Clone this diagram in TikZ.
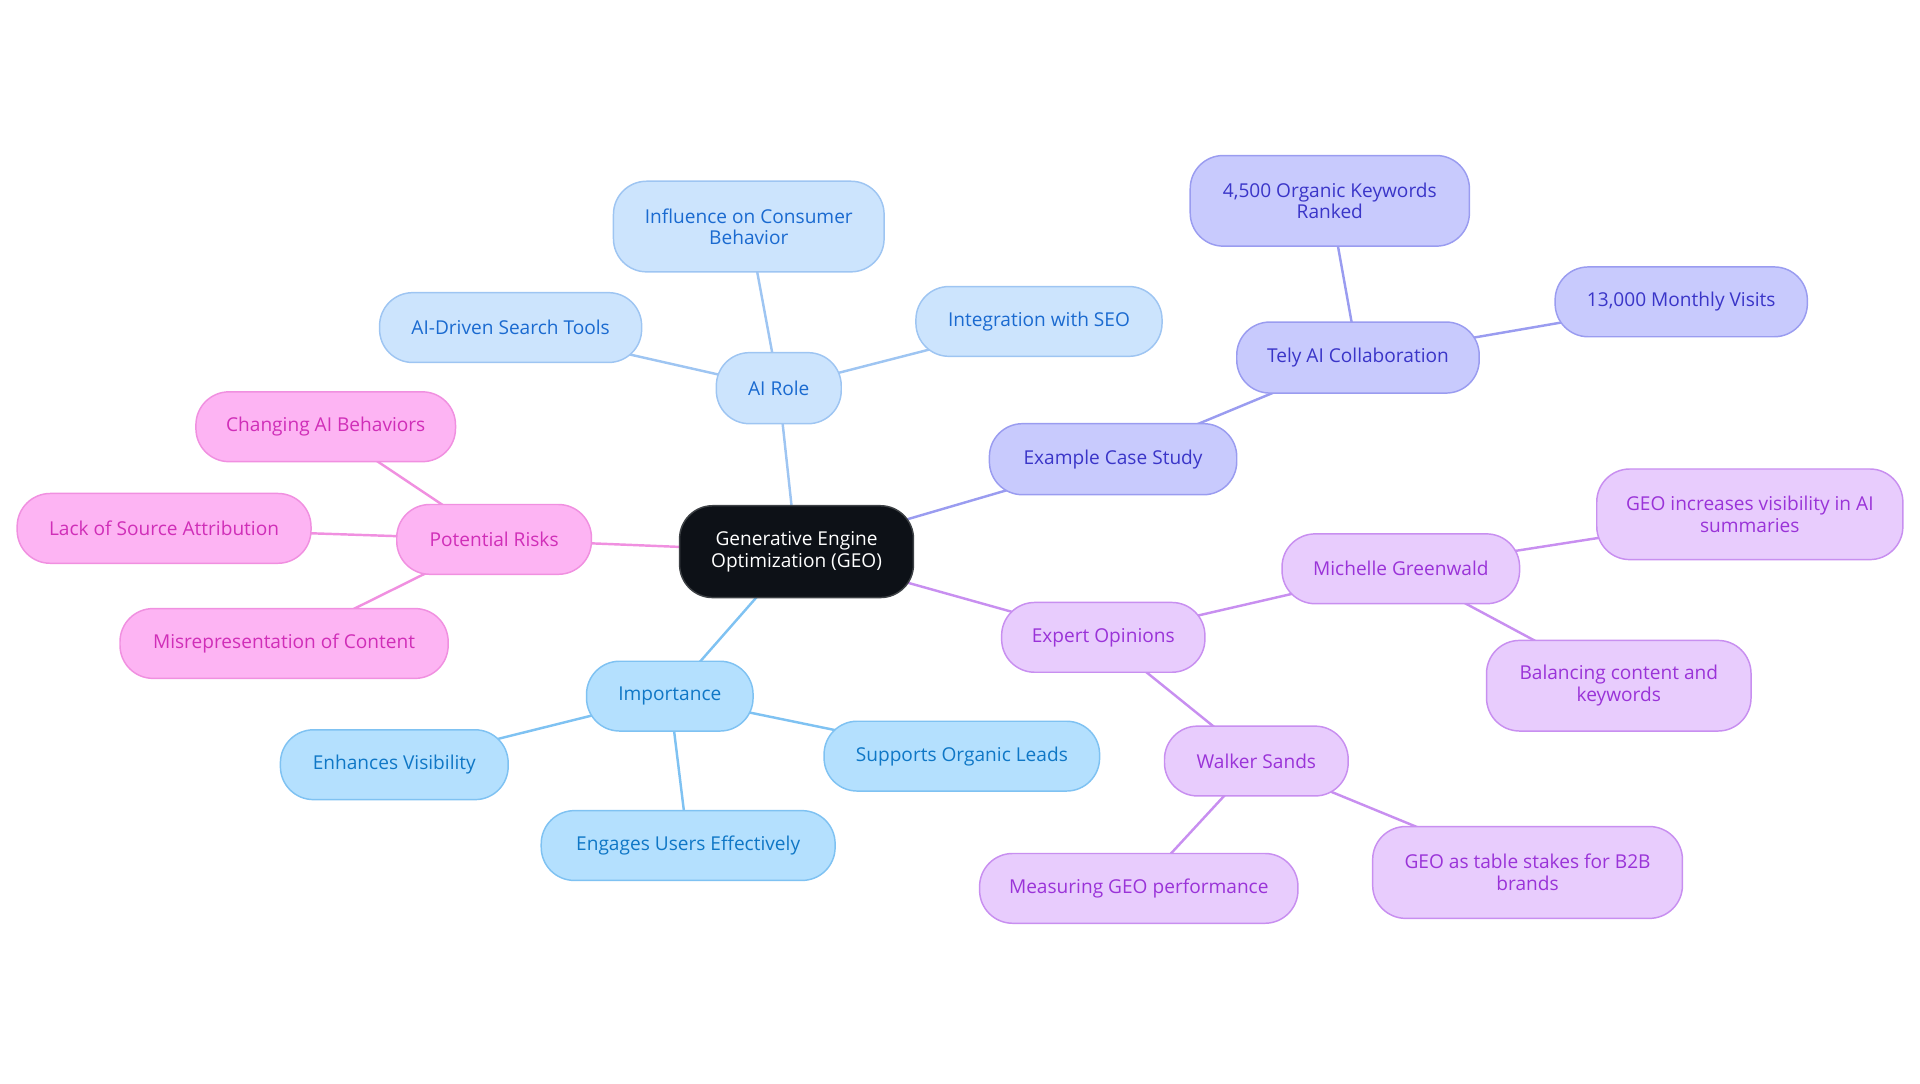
\documentclass[tikz,border=0pt]{standalone}
\usepackage{fontspec}
\setmainfont{Open Sans}
\usetikzlibrary{backgrounds}
\definecolor{rootfill}{HTML}{0D1117}
\definecolor{aifill}{HTML}{CCE4FD}\definecolor{aidraw}{HTML}{9EC5F2}\definecolor{aitext}{HTML}{1A6AD0}
\definecolor{imfill}{HTML}{B4E0FE}\definecolor{imdraw}{HTML}{7FC2F2}\definecolor{imtext}{HTML}{0F77C6}
\definecolor{prfill}{HTML}{FDB4F3}\definecolor{prdraw}{HTML}{F090E0}\definecolor{prtext}{HTML}{D02EB8}
\definecolor{exfill}{HTML}{C8CAFD}\definecolor{exdraw}{HTML}{9A9CF0}\definecolor{extext}{HTML}{3A35C8}
\definecolor{eofill}{HTML}{E8CCFD}\definecolor{eodraw}{HTML}{C88FF0}\definecolor{eotext}{HTML}{9A33D8}
\tikzset{
  box/.style={rounded corners=27pt, line width=1.2pt, inner sep=0pt, align=center,
    font=\fontsize{15.6}{17.5}\selectfont},
  rootbox/.style={box, fill=rootfill, draw=rootfill!80!white, text=white},
  aibox/.style={box, fill=aifill, draw=aidraw, text=aitext},
  imbox/.style={box, fill=imfill, draw=imdraw, text=imtext},
  prbox/.style={box, fill=prfill, draw=prdraw, text=prtext},
  exbox/.style={box, fill=exfill, draw=exdraw, text=extext},
  eobox/.style={box, fill=eofill, draw=eodraw, text=eotext},
  link/.style={line width=2pt},
}
\newcommand{\nd}[6]{\node[#1, minimum width=#4pt, minimum height=#5pt] (#2) at (#3) {#6};}
\begin{document}
\begin{tikzpicture}[x=1pt,y=-1pt]
\useasboundingbox (0,0) rectangle (1568,884.5);
\nd{rootbox}{root}{650.5,450.5}{191}{75}{Generative Engine\\Optimization (GEO)}
% AI Role
\nd{aibox}{airole}{636,317}{102}{58}{AI Role}
\nd{aibox}{influence}{611.5,185}{221}{74}{Influence on Consumer\\Behavior}
\nd{aibox}{aidriven}{417,267.5}{214}{57}{AI-Driven Search Tools}
\nd{aibox}{integration}{848.5,262.5}{201}{57}{Integration with SEO}
% Importance
\nd{imbox}{importance}{547,568.5}{136}{57}{Importance}
\nd{imbox}{enhances}{322,624.5}{186}{57}{Enhances Visibility}
\nd{imbox}{engages}{562,690.5}{240}{57}{Engages Users Effectively}
\nd{imbox}{supports}{785.5,617.5}{225}{57}{Supports Organic Leads}
% Potential Risks
\nd{prbox}{risks}{403.5,440.5}{159}{57}{Potential Risks}
\nd{prbox}{changing}{266,348.5}{212}{57}{Changing AI Behaviors}
\nd{prbox}{lack}{134,431.5}{240}{57}{Lack of Source Attribution}
\nd{prbox}{misrep}{232,525.5}{268}{57}{Misrepresentation of Content}
% Example Case Study
\nd{exbox}{example}{909,375}{202}{58}{Example Case Study}
\nd{exbox}{tely}{1109,292}{198}{58}{Tely AI Collaboration}
\nd{exbox}{keywords}{1086,164}{228}{74}{4,500 Organic Keywords\\Ranked}
\nd{exbox}{visits}{1373,246.5}{206}{57}{13,000 Monthly Visits}
% Expert Opinions
\nd{eobox}{expert}{901,520.5}{166}{57}{Expert Opinions}
\nd{eobox}{michelle}{1144,464.5}{194}{57}{Michelle Greenwald}
\nd{eobox}{geovis}{1429,420}{250}{74}{GEO increases visibility in AI\\summaries}
\nd{eobox}{balancing}{1322,560}{216}{74}{Balancing content and\\keywords}
\nd{eobox}{walker}{1026,621.5}{150}{57}{Walker Sands}
\nd{eobox}{measuring}{930,725.5}{260}{57}{Measuring GEO performance}
\nd{eobox}{stakes}{1247.5,712.5}{253}{75}{GEO as table stakes for B2B\\brands}
\begin{pgfonlayer}{background}
\draw[link, aidraw] (root.center) -- (airole.center);
\draw[link, aidraw] (airole.center) -- (influence.center);
\draw[link, aidraw] (airole.center) -- (aidriven.center);
\draw[link, aidraw] (airole.center) -- (integration.center);
\draw[link, imdraw] (root.center) -- (importance.center);
\draw[link, imdraw] (importance.center) -- (enhances.center);
\draw[link, imdraw] (importance.center) -- (engages.center);
\draw[link, imdraw] (importance.center) -- (supports.center);
\draw[link, prdraw] (root.center) -- (risks.center);
\draw[link, prdraw] (risks.center) -- (changing.center);
\draw[link, prdraw] (risks.center) -- (lack.center);
\draw[link, prdraw] (risks.center) -- (misrep.center);
\draw[link, exdraw] (root.center) -- (example.center);
\draw[link, exdraw] (example.center) -- (tely.center);
\draw[link, exdraw] (tely.center) -- (keywords.center);
\draw[link, exdraw] (tely.center) -- (visits.center);
\draw[link, eodraw] (root.center) -- (expert.center);
\draw[link, eodraw] (expert.center) -- (michelle.center);
\draw[link, eodraw] (michelle.center) -- (geovis.center);
\draw[link, eodraw] (michelle.center) -- (balancing.center);
\draw[link, eodraw] (expert.center) -- (walker.center);
\draw[link, eodraw] (walker.center) -- (measuring.center);
\draw[link, eodraw] (walker.center) -- (stakes.center);
\end{pgfonlayer}
\end{tikzpicture}
\end{document}
